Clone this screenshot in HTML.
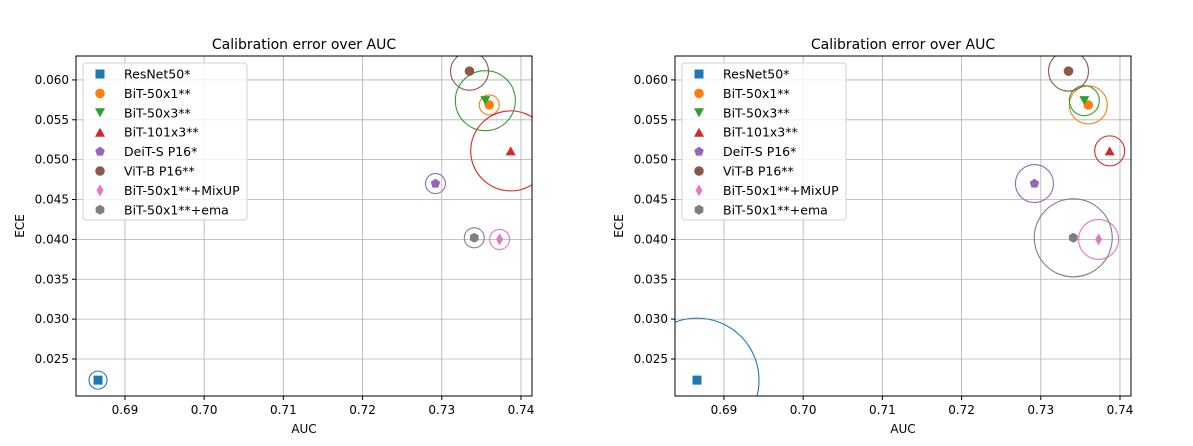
<!DOCTYPE html>
<html><head><meta charset="utf-8"><style>
html,body{margin:0;padding:0;background:#fff;}
svg{display:block;font-family:"DejaVu Sans","Liberation Sans",sans-serif;}
</style></head><body>
<svg id="chart" width="1193" height="446" viewBox="0 0 1193 446"></svg>
<script>
const modelNames = ["ResNet50*","BiT-50x1**","BiT-50x3**","BiT-101x3**","DeiT-S P16*","ViT-B P16**","BiT-50x1**+MixUP","BiT-50x1**+ema"];
const aucValues = [0.6866,0.7360,0.7355,0.7387,0.7292,0.7335,0.7373,0.7341];
const eceValues = [0.02235,0.05686,0.0574,0.0511,0.0470,0.0611,0.0400,0.0402];
const leftRadius = [9,10,30,40,10,19,10,10];
const rightRadius = [62,19,15,15,19,20,20,39];
const xTicks = [0.69,0.70,0.71,0.72,0.73,0.74];
const xTickLabels = ["0.69","0.70","0.71","0.72","0.73","0.74"];
const yTicks = [0.025,0.030,0.035,0.040,0.045,0.050,0.055,0.060];
const yTickLabels = ["0.025","0.030","0.035","0.040","0.045","0.050","0.055","0.060"];
const colors = ["#1f77b4","#ff7f0e","#2ca02c","#d62728","#9467bd","#8c564b","#e377c2","#7f7f7f"];
const shapes = ["square","circle","tri-down","tri-up","pentagon","circle","diamond","hexagon"];

const NS="http://www.w3.org/2000/svg";
const svg=document.getElementById('chart');
function mk(tag,attrs,parent){const e=document.createElementNS(NS,tag);for(const k in attrs)e.setAttribute(k,attrs[k]);(parent||svg).appendChild(e);return e;}
const xmin=0.68382,xmax=0.74139,ymin=0.02036,ymax=0.0630;

function marker(g,shape,cx,cy,color,s){
  let el;
  if(shape==="square") el=mk('rect',{x:cx-4.5,y:cy-4.5,width:9,height:9,fill:color},g);
  else if(shape==="circle") el=mk('circle',{cx:cx,cy:cy,r:4.8,fill:color},g);
  else {
    let pts=[];
    if(shape==="tri-down") pts=[[-5,-4.5],[5,-4.5],[0,4.5]];
    else if(shape==="tri-up") pts=[[-5,4.5],[5,4.5],[0,-4.5]];
    else if(shape==="diamond") pts=[[0,-6],[3.5,0],[0,6],[-3.5,0]];
    else if(shape==="pentagon"){for(let i=0;i<5;i++){const a=-Math.PI/2+i*2*Math.PI/5;pts.push([5*Math.cos(a),5*Math.sin(a)]);}}
    else if(shape==="hexagon"){for(let i=0;i<6;i++){const a=-Math.PI/2+i*Math.PI/3;pts.push([5*Math.cos(a),5*Math.sin(a)]);}}
    el=mk('polygon',{points:pts.map(p=>(cx+p[0])+','+(cy+p[1])).join(' '),fill:color},g);
  }
  return el;
}

function panel(px,radii,id){
  const L=px,R=px+456,T=56,B=396;
  const sx=v=>L+(v-xmin)/(xmax-xmin)*(R-L);
  const sy=v=>B-(v-ymin)/(ymax-ymin)*(B-T);
  const g=mk('g',{});
  
  
  const clip=mk('clipPath',{id:id+'-clip'},g);
  mk('rect',{x:L,y:T,width:R-L,height:B-T},clip);
  const grid=mk('g',{stroke:'#b0b0b0','stroke-width':0.8},g);
  
  
  xTicks.forEach((t,i)=>{
    const x=sx(t);
    mk('line',{x1:x,y1:T,x2:x,y2:B},grid);
    mk('line',{x1:x,y1:B,x2:x,y2:B+4,stroke:'#000'},g);
    const tx=mk('text',{x:x,y:B+18,'font-size':12,'text-anchor':'middle',fill:'#000'},g);
    tx.textContent=xTickLabels[i];
    
    
  });
  yTicks.forEach((t,i)=>{
    const y=sy(t);
    mk('line',{x1:L,y1:y,x2:R,y2:y},grid);
    mk('line',{x1:L-4,y1:y,x2:L,y2:y,stroke:'#000'},g);
    const ty=mk('text',{x:L-7,y:y+4,'font-size':12,'text-anchor':'end',fill:'#000'},g);
    ty.textContent=yTickLabels[i];
    
    
  });
  const pts=mk('g',{'clip-path':'url(#'+id+'-clip)'},g);
  
  
  modelNames.forEach((n,i)=>{
    const cx=sx(aucValues[i]),cy=sy(eceValues[i]);
    const c=mk('circle',{cx:cx,cy:cy,r:radii[i],fill:'none',stroke:colors[i],'stroke-width':1.1},pts);
    
    
    const m=marker(pts,shapes[i],cx,cy,colors[i]);
    
    
  });
  const fr=mk('rect',{x:L,y:T,width:R-L,height:B-T,fill:'none',stroke:'#000','stroke-width':1},g);
  
  
  const title=mk('text',{x:(L+R)/2,y:49,'font-size':14,'text-anchor':'middle',fill:'#000'},g);
  title.textContent='Calibration error over AUC';
  
  
  const xl=mk('text',{x:(L+R)/2,y:433,'font-size':12,'text-anchor':'middle',fill:'#000'},g);
  xl.textContent='AUC';
  
  
  const yl=mk('text',{x:0,y:0,'font-size':12,'text-anchor':'middle',fill:'#000',transform:'translate('+(L-52)+',226) rotate(-90)'},g);
  yl.textContent='ECE';
  
  
  const lg=mk('g',{},g);
  
  
  mk('rect',{x:L+7,y:63,width:164,height:157,rx:3,fill:'#fff','fill-opacity':0.8,stroke:'#d0d0d0'},lg);
  modelNames.forEach((n,i)=>{
    const y=74+i*19.4;
    const e=mk('g',{},lg);
    
    
    marker(e,shapes[i],L+24,y,colors[i]);
    const t=mk('text',{x:L+48,y:y+4.5,'font-size':12.5,fill:'#000'},e);
    t.textContent=n;
  });
}
panel(76,leftRadius,'left');
panel(675,rightRadius,'right');
</script>
</body></html>
